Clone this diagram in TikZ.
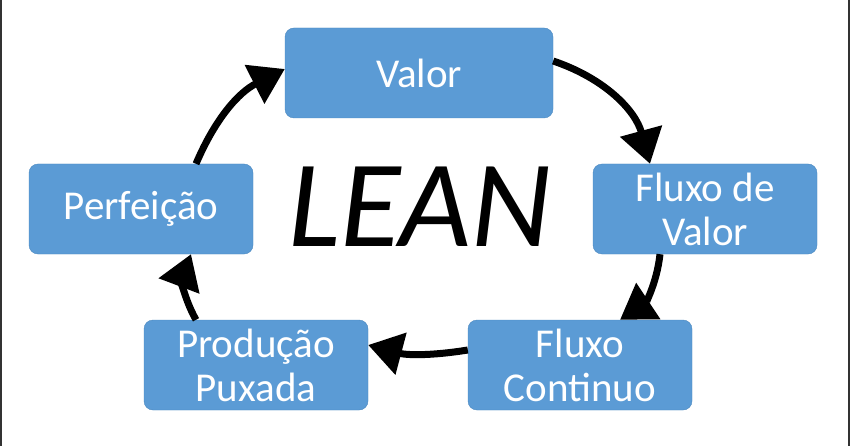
\documentclass[tikz,border=0pt]{standalone}
\usepackage{fontspec}
\setmainfont{Carlito}
\usetikzlibrary{arrows.meta}
\definecolor{boxblue}{HTML}{5B9BD5}
\definecolor{boxedge}{HTML}{4A88C0}
\begin{document}
\begin{tikzpicture}[x=1pt,y=-1pt,
  stage/.style={draw=boxedge,fill=boxblue,rounded corners=9pt,minimum width=224pt,minimum height=90pt,text=white,font=\fontsize{41}{44}\selectfont,align=center,inner sep=0pt},
  cyc/.style={line width=7pt,-{Triangle[length=34pt,width=42pt]}}]
\useasboundingbox (0,0) rectangle (850,446);
\fill[white] (0,0) rectangle (850,446);
\draw[line width=2pt,black!80] (1,0) -- (1,446) (849,0) -- (849,446);
\node[stage,minimum width=268pt] (v) at (419,73) {Valor};
\node[stage] (fv) at (705,209) {Fluxo de\\Valor};
\node[stage] (fc) at (580,365) {Fluxo\\Continuo};
\node[stage] (pp) at (256,365) {Produção\\Puxada};
\node[stage] (pf) at (141,209) {Perfeição};
\node[font=\fontsize{124}{124}\selectfont\itshape] (lean) at (420,207) {LEAN};
\draw[cyc] ([yshift=12pt]v.east) to[bend left=28] ([xshift=-55pt]fv.north);
\draw[cyc] ([xshift=-45pt]fv.south) to[bend left=25] ([xshift=40pt]fc.north);
\draw[cyc] ([yshift=15pt]fc.west) to[bend left=12] ([yshift=20pt]pp.east);
\draw[cyc] ([xshift=-60pt]pp.north) to[bend left=25] ([xshift=50pt]pf.south);
\draw[cyc] ([xshift=55pt]pf.north) to[bend left=20] ([yshift=4pt]v.west);
\end{tikzpicture}
\end{document}
